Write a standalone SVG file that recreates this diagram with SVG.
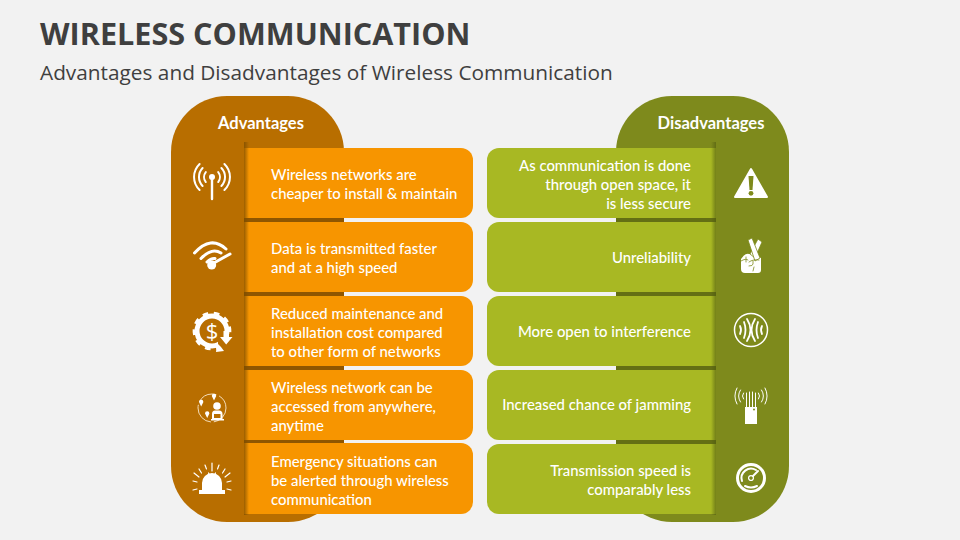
<svg xmlns="http://www.w3.org/2000/svg" width="960" height="540" viewBox="0 0 960 540">
<style>
.title{font:700 30.6px "Open Sans",sans-serif;fill:#3f3f3f}
.sub{font:400 20.8px "Open Sans",sans-serif;fill:#3f3f3f}
.h{font:700 16.5px Lato,sans-serif;fill:#fff;text-anchor:middle}
.t{font:500 14.9px Lato,sans-serif;fill:#fff}
.r{text-anchor:end}
.oc{fill:#f79500}.gc{fill:#a8b823}
.ln{fill:none;stroke:#fff;stroke-linecap:round;stroke-width:2}
.th{fill:none;stroke:#fff;stroke-linecap:round;stroke-width:1}
.w{fill:#fff}
</style>
<defs>
<linearGradient id="sl"><stop offset="0" stop-color="#7a4c00" stop-opacity=".75"/><stop offset="1" stop-color="#7a4c00" stop-opacity="0"/></linearGradient>
<linearGradient id="sr"><stop offset="0" stop-color="#4f5a10" stop-opacity="0"/><stop offset="1" stop-color="#4f5a10" stop-opacity=".6"/></linearGradient>
</defs>
<rect width="960" height="540" fill="#f2f2f2"/>
<text class="title" x="40" y="45">WIRELESS COMMUNICATION</text>
<text class="sub" x="40" y="80">Advantages and Disadvantages of Wireless Communication</text>

<g id="advantages-panel">
<rect x="171" y="96" width="173" height="426" rx="56" fill="#b86e00"/>
<rect x="244" y="218" width="100" height="4" fill="#8f5600"/>
<rect x="244" y="292" width="100" height="4" fill="#8f5600"/>
<rect x="244" y="366" width="100" height="4" fill="#8f5600"/>
<rect x="244" y="440" width="100" height="3" fill="#8f5600"/>
<text class="h" x="261" y="129">Advantages</text>
</g>
<g id="disadvantages-panel">
<rect x="616" y="96" width="173" height="426" rx="56" fill="#7e8a1c"/>
<rect x="616" y="218" width="100" height="4" fill="#646f14"/>
<rect x="616" y="292" width="100" height="4" fill="#646f14"/>
<rect x="616" y="366" width="100" height="4" fill="#646f14"/>
<rect x="616" y="440" width="100" height="4" fill="#646f14"/>
<text class="h" x="711" y="129">Disadvantages</text>
</g>

<g id="adv-1"><path class="oc" d="M244 148H461a12 12 0 0 1 12 12V206a12 12 0 0 1-12 12H244Z"/>
<text class="t"><tspan x="271" y="180">Wireless networks are</tspan><tspan x="271" y="199">cheaper to install &amp; maintain</tspan></text></g>
<g id="adv-2"><path class="oc" d="M244 222H461a12 12 0 0 1 12 12V280a12 12 0 0 1-12 12H244Z"/>
<text class="t"><tspan x="271" y="254">Data is transmitted faster</tspan><tspan x="271" y="273">and at a high speed</tspan></text></g>
<g id="adv-3"><path class="oc" d="M244 296H461a12 12 0 0 1 12 12V354a12 12 0 0 1-12 12H244Z"/>
<text class="t"><tspan x="271" y="319">Reduced maintenance and</tspan><tspan x="271" y="338">installation cost compared</tspan><tspan x="271" y="357">to other form of networks</tspan></text></g>
<g id="adv-4"><path class="oc" d="M244 370H461a12 12 0 0 1 12 12V428a12 12 0 0 1-12 12H244Z"/>
<text class="t"><tspan x="271" y="393">Wireless network can be</tspan><tspan x="271" y="412">accessed from anywhere,</tspan><tspan x="271" y="431">anytime</tspan></text></g>
<g id="adv-5"><path class="oc" d="M244 443H461a12 12 0 0 1 12 12V502a12 12 0 0 1-12 12H244Z"/>
<text class="t"><tspan x="271" y="467">Emergency situations can</tspan><tspan x="271" y="486">be alerted through wireless</tspan><tspan x="271" y="505">communication</tspan></text></g>

<g id="dis-1"><path class="gc" d="M716 148H499a12 12 0 0 0-12 12V206a12 12 0 0 0 12 12H716Z"/>
<text class="t r"><tspan x="691" y="171">As communication is done</tspan><tspan x="691" y="190">through open space, it</tspan><tspan x="691" y="209">is less secure</tspan></text></g>
<g id="dis-2"><path class="gc" d="M716 222H499a12 12 0 0 0-12 12V280a12 12 0 0 0 12 12H716Z"/>
<text class="t r" x="691" y="263">Unreliability</text></g>
<g id="dis-3"><path class="gc" d="M716 296H499a12 12 0 0 0-12 12V354a12 12 0 0 0 12 12H716Z"/>
<text class="t r" x="691" y="337">More open to interference</text></g>
<g id="dis-4"><path class="gc" d="M716 370H499a12 12 0 0 0-12 12V428a12 12 0 0 0 12 12H716Z"/>
<text class="t r" x="691" y="410">Increased chance of jamming</text></g>
<g id="dis-5"><path class="gc" d="M716 444H499a12 12 0 0 0-12 12V502a12 12 0 0 0 12 12H716Z"/>
<text class="t r"><tspan x="691" y="476">Transmission speed is</tspan><tspan x="691" y="495">comparably less</tspan></text></g>

<rect x="244" y="142" width="5" height="373" fill="url(#sl)"/>
<rect x="711" y="142" width="5" height="373" fill="url(#sr)"/>

<g id="icon-antenna" transform="translate(212 177)">
<path class="ln" style="stroke-width:2.400" d="M0 0V22"/><circle class="w" r="3"/>
<path class="ln" d="M-6.200-5A8 8 0 0 0-6.200 5M6.200-5A8 8 0 0 1 6.200 5M-9.400-9A13 13 0 0 0-9.400 9M9.400-9A13 13 0 0 1 9.400 9M-12.400-13A18 18 0 0 0-12.400 13M12.400-13A18 18 0 0 1 12.400 13"/>
</g>
<g id="icon-wifi">
<path class="ln" style="stroke-width:3" d="M194.500 253Q211 235 226 249M201 258.500Q212 247 221 253M207 262Q211 258 215 258.500"/>
<circle class="w" cx="211.700" cy="265" r="4.500"/><path class="ln" style="stroke-width:3" d="M212 264L230 254"/>
</g>
<g id="icon-gear" transform="translate(212 331)">
<circle r="15" fill="none" stroke="#fff" stroke-width="5"/>
<circle r="17.800" fill="none" stroke="#fff" stroke-width="3.200" stroke-dasharray="5.600 5.580" transform="rotate(-14)"/>
<text x="0" y="8" text-anchor="middle" style="font:400 22px 'Open Sans',sans-serif;fill:#fff">$</text>
<path d="M6 3H22V22H6Z" fill="#b86e00"/>
<path d="M5 12L9 16 12 20 4 21Z" class="w"/>
<path class="w" d="M11.500 0H17V6H20.500L14.200 13.500 8 6H11.500Z"/>
</g>
<g id="icon-person" transform="translate(212 408)">
<circle r="14" fill="none" stroke="#f4dcb8" stroke-width="1" stroke-dasharray="20 3 24 3"/>
<circle class="w" cx="5" cy="-2" r="3.800"/>
<path class="w" d="M0 11V6Q0 2.500 3 2.500H7Q10.500 2.500 10.500 6V11H12V12.500H-1V11Z"/>
<path d="M2 6H8.500V10H2Z" fill="#b86e00"/>
<path class="w" fill-rule="evenodd" d="M-13-6a2.200 2.200 0 1 1 4.400 0L-10.800-1.500ZM-.2-12a2.200 2.200 0 1 1 4.400 0L2-7.500ZM-7 5.500a2.200 2.200 0 1 1 4.400 0L-4.800 10Z"/>
</g>
<g id="icon-alarm" transform="translate(212 484)">
<path class="w" d="M-10 6V-1A10 10 0 0 1 10-1V6H13V10H-13V6Z"/>
<path class="th" style="stroke-width:1.200" d="M0-21V-13M-7-19L-5.500-15M-3.500-11L-3-10M7-19L5.500-15M3.500-11L3-10M-13-15L-10.500-11M13-15L10.500-11M-18-11L-13-7M18-11L13-7M-19-3L-15-2M19-3L15-2M-19 6L-15 5M19 6L15 5"/>
</g>

<g id="icon-warning" transform="translate(751 184)">
<path class="w" stroke="#fff" stroke-width="2" stroke-linejoin="round" d="M0-15L16 13H-16Z"/>
<path d="M-2.500-8H2.500L1.500 6H-1.500Z" fill="#7e8a1c"/><circle cy="9.300" r="2.400" fill="#7e8a1c"/>
</g>
<g id="icon-fingers" transform="translate(751 258)">
<path class="w" d="M-10 1Q-6-5-2-4L4-3 10 0V12Q10 15 7 15H-6Q-10 15-10 11Z"/>
<path class="w" stroke="#7e8a1c" stroke-width=".8" d="M7-19L11-16 4 0-1-4Z"/>
<path class="w" stroke="#7e8a1c" stroke-width=".8" d="M-3-18L1-20 9 0 4 3Z"/>
<path fill="none" stroke="#7e8a1c" stroke-width=".8" stroke-linecap="round" d="M-10 3Q-5 0-3 2M-5-1V4M-2 4Q2 1 8 2M2 3V6Q2 8-2 8M3 9L2 13"/>
</g>
<g id="icon-interference" transform="translate(751 330)">
<circle class="ln" r="16.500" style="stroke-width:1.500"/>
<path class="ln" style="stroke-width:1.800" d="M-11-4Q-9 0-11 4M-7-8Q-4 0-7 8M-4-11Q3 0-4 11M11-4Q9 0 11 4M7-8Q4 0 7 8M4-11Q-3 0 4 11"/>
</g>
<g id="icon-jamming" transform="translate(751 396)">
<rect class="w" x="-6" y="11" width="12" height="17"/><circle cx="3" cy="13.500" r="1" fill="#7e8a1c"/>
<path class="th" d="M-4.500 11V-3M-1.500 11V-4M1.500 11V-4M4.500 11V-3"/>
<path class="th" d="M-7.500-3A5 5 0 0 0-7.500 3M7.500-3A5 5 0 0 1 7.500 3M-10.500-6A11 11 0 0 0-10.500 6M10.500-6A11 11 0 0 1 10.500 6M-14-8A17 17 0 0 0-14 8M14-8A17 17 0 0 1 14 8"/>
</g>
<g id="icon-gauge" transform="translate(751 478)">
<circle class="ln" r="13.500" style="stroke-width:3"/>
<path class="ln" style="stroke-width:2" d="M-9 3A9.500 9.500 0 0 1 5-8M-6 8Q0 11 6 8"/>
<circle class="ln" r="2.400" style="stroke-width:1.300"/><path class="ln" style="stroke-width:2" d="M2-2L7-7"/>
</g>
</svg>
